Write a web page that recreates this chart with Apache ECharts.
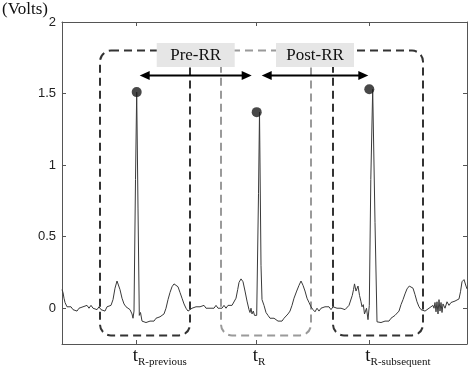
<!DOCTYPE html>
<html><head><meta charset="utf-8">
<script src="https://cdn.jsdelivr.net/npm/echarts@6/dist/echarts.min.js"></script>
<style>html,body{margin:0;padding:0;background:#fff}#c{width:474px;height:376px}</style>
</head><body><div id="c"></div>
<script>
// ECG trace: time (s) and amplitude (Volts)
const timeSec = [0.00,0.01,0.02,0.03,0.05,0.07,0.09,0.11,0.13,0.15,0.17,0.19,0.21,0.23,0.25,0.27,0.29,0.31,0.33,0.35,0.37,0.39,0.41,0.43,0.45,0.47,0.49,
0.51,0.53,0.55,0.56,0.58,0.60,0.62,0.64,0.66,0.68,0.70,0.71,0.72,0.735,0.747,0.76,0.773,0.785,0.80,0.82,0.84,0.86,0.88,0.90,0.92,0.94,0.96,0.98,1.00,1.02,
1.04,1.06,1.08,1.10,1.12,1.14,1.16,1.18,1.20,1.22,1.24,1.26,1.28,1.30,1.32,1.34,1.36,1.38,1.40,1.42,1.44,1.46,1.48,1.50,1.52,1.54,1.56,1.58,1.60,1.62,1.64,
1.66,1.68,1.70,1.72,1.74,1.757,1.77,1.79,1.81,1.83,1.85,1.87,1.88,1.89,1.90,1.913,1.925,1.947,1.965,1.975,1.99,2.00,2.02,2.04,2.06,2.08,2.10,2.12,2.14,2.16,
2.18,2.20,2.22,2.24,2.26,2.28,2.30,2.32,2.347,2.37,2.39,2.41,2.43,2.45,2.47,2.49,2.51,2.53,2.55,2.57,2.59,2.61,2.63,2.65,2.67,2.69,2.71,2.73,2.75,2.77,2.79,
2.81,2.83,2.85,2.87,2.89,2.903,2.915,2.925,2.94,2.96,2.975,2.99,3.00,3.013,3.025,3.045,3.06,3.073,3.088,3.107,3.13,3.15,3.17,3.19,3.21,3.23,3.25,3.27,3.29,
3.31,3.33,3.35,3.37,3.39,3.41,3.43,3.45,3.473,3.49,3.51,3.53,3.55,3.57,3.59,3.61,3.63,3.65,3.67,3.69,3.71,3.72,3.73,3.74,3.75,3.76,3.77,3.78,3.79,3.80,3.81,
3.83,3.85,3.87,3.89,3.91,3.93,3.95,3.97,3.985,4.00,4.02,4.04,4.05];
const volts = [0.13,0.11,0.07,0.04,0.01,0.00,0.01,-0.01,0.00,-0.02,0.00,-0.01,0.01,0.00,0.02,0.00,0.02,0.00,0.01,-0.01,0.01,-0.01,0.00,-0.02,0.01,0.00,0.02,
0.06,0.14,0.19,0.18,0.13,0.07,0.03,0.01,0.00,-0.01,-0.04,-0.07,-0.02,0.90,1.51,0.70,-0.05,-0.03,-0.09,-0.09,-0.10,-0.09,-0.09,-0.08,-0.09,-0.07,-0.07,-0.06,-0.06,-0.04,
0.00,0.06,0.11,0.15,0.17,0.18,0.15,0.11,0.07,0.03,0.00,-0.02,-0.025,0.00,-0.01,0.01,0.00,0.01,0.00,0.02,0.00,0.01,0.00,0.01,0.00,0.02,0.00,0.01,0.00,0.02,0.00,
0.02,0.01,0.02,0.03,0.07,0.13,0.18,0.205,0.185,0.12,0.05,-0.01,-0.03,0.00,-0.04,-0.02,-0.05,-0.05,0.80,1.37,0.30,0.06,0.02,-0.03,-0.05,-0.07,-0.06,-0.07,-0.07,-0.09,
-0.08,-0.09,-0.07,-0.06,-0.04,-0.02,0.02,0.07,0.12,0.16,0.19,0.16,0.12,0.07,0.04,0.01,-0.01,-0.025,0.00,-0.02,0.00,-0.01,0.01,0.00,0.01,-0.01,0.01,0.02,0.00,
0.01,0.00,0.00,-0.01,0.00,0.02,0.025,0.09,0.13,0.17,0.12,0.155,0.09,0.045,0.01,0.025,-0.04,0.00,-0.08,0.02,0.90,1.53,0.60,-0.095,-0.09,-0.10,-0.09,-0.09,-0.08,
-0.09,-0.07,-0.07,-0.05,-0.04,-0.02,0.025,0.06,0.10,0.135,0.155,0.165,0.14,0.095,0.045,0.01,-0.01,0.00,-0.02,-0.025,0.00,-0.01,0.02,0.00,0.04,-0.025,0.045,-0.04,
0.06,-0.02,0.04,-0.03,0.03,0.00,0.045,0.02,0.04,0.03,0.05,0.045,0.065,0.115,0.185,0.20,0.155,0.135,0.11,0.10];

// R peaks
const peakTimes = [0.747, 1.947, 3.073];
const peakVolts = [1.51, 1.37, 1.53];
const peakLabels = ['R-previous', 'R', 'R-subsequent'];
const yTicks = [0, 0.5, 1, 1.5, 2];
const intervalNames = ['Pre-RR', 'Post-RR'];
// window boxes [start, end] in seconds, and their vertical extent in Volts
const boxStarts = [0.38, 1.59, 2.71];
const boxEnds = [1.28, 2.49, 3.61];
const boxColors = ['#333333', '#9a9a9a', '#333333'];
const boxTop = 1.80, boxBottom = -0.19;
const arrowLevel = 1.63, labelLevel = 1.77;

const trace = timeSec.map((t, i) => [t, volts[i]]);
const peaks = peakTimes.map((t, i) => [t, peakVolts[i]]);

const chart = echarts.init(document.getElementById('c'), null, {renderer: 'canvas'});
const serif = '"Liberation Serif","Times New Roman",serif';
const sans = '"Liberation Sans",Arial,sans-serif';
const axisCol = '#555';

const option = {
  animation: false,
  backgroundColor: '#fff',
  grid: {left: 62, right: 7, top: 22, bottom: 32, show: false, outerBoundsMode: 'none'},
  xAxis: [{
    type: 'value', min: 0, max: 4.05, position: 'bottom',
    axisLine: {show: true, onZero: false, lineStyle: {color: axisCol, width: 1}},
    axisTick: {show: true, inside: true, length: 4, customValues: peakTimes, lineStyle: {color: axisCol}},
    splitLine: {show: false},
    axisLabel: {
      customValues: peakTimes, margin: 3, align: 'left',
      formatter: v => { const i = peakTimes.indexOf(v); return i < 0 ? '' : '{t|t}{s|' + peakLabels[i] + '}'; },
      rich: {
        t: {fontFamily: serif, fontSize: 19, lineHeight: 18, verticalAlign: 'top', color: '#111', padding: [0, 0, 0, -4]},
        s: {fontFamily: serif, fontSize: 11, lineHeight: 12, verticalAlign: 'top', padding: [10, 0, 0, 0], color: '#111'}
      }
    }
  }, {
    type: 'value', min: 0, max: 4.05, position: 'top',
    axisLine: {show: true, onZero: false, lineStyle: {color: axisCol, width: 1}},
    axisTick: {show: true, inside: true, length: 4, customValues: peakTimes, lineStyle: {color: axisCol}},
    axisLabel: {show: false}, splitLine: {show: false}
  }],
  yAxis: [{
    type: 'value', min: -0.25, max: 2, position: 'left',
    axisLine: {show: true, onZero: false, lineStyle: {color: axisCol, width: 1}},
    axisTick: {show: true, inside: true, length: 4, customValues: yTicks, lineStyle: {color: axisCol}},
    splitLine: {show: false},
    axisLabel: {customValues: yTicks, margin: 6, fontFamily: sans, fontSize: 13, color: '#222',
      formatter: v => String(v)}
  }, {
    type: 'value', min: -0.25, max: 2, position: 'right',
    axisLine: {show: true, onZero: false, lineStyle: {color: axisCol, width: 1}},
    axisTick: {show: true, inside: true, length: 4, customValues: yTicks, lineStyle: {color: axisCol}},
    axisLabel: {show: false}, splitLine: {show: false}
  }],
  series: [{
    type: 'line', data: trace, showSymbol: false, symbol: 'none',
    lineStyle: {color: '#3a3a3a', width: 1}, z: 3
  }, {
    type: 'scatter', data: peaks, symbolSize: 10,
    itemStyle: {color: '#1a1a1a'}, z: 5
  }],
  graphic: []
};
chart.setOption(option);

function px(t, v) { return chart.convertToPixel({gridIndex: 0}, [t, v]); }

const g = [];
g.push({type: 'text', left: 2, top: 1, style: {text: '(Volts)', font: '17px ' + serif, fill: '#111'}});
// dashed rounded windows
boxStarts.forEach((s, i) => {
  const a = px(s, boxTop), b = px(boxEnds[i], boxBottom);
  g.push({type: 'rect', z: 2,
    shape: {x: a[0], y: a[1], width: b[0] - a[0], height: b[1] - a[1], r: 11},
    style: {fill: 'none', stroke: boxColors[i], lineWidth: 2, lineDash: [8, 5]}});
});
// double arrows and labels
const arrowEnds = [[peakTimes[0] + 0.03, peakTimes[1] - 0.05], [peakTimes[1] + 0.05, peakTimes[2] - 0.01]];
arrowEnds.forEach((e, i) => {
  const p0 = px(e[0], arrowLevel), p1 = px(e[1], arrowLevel);
  const y = Math.round(p0[1]) + 0.5;
  g.push({type: 'line', z: 10, shape: {x1: p0[0] + 6, y1: y, x2: p1[0] - 6, y2: y}, style: {stroke: '#000', lineWidth: 2}});
  g.push({type: 'polygon', z: 10, shape: {points: [[p0[0], y], [p0[0] + 10, y - 4.5], [p0[0] + 10, y + 4.5]]}, style: {fill: '#000'}});
  g.push({type: 'polygon', z: 10, shape: {points: [[p1[0], y], [p1[0] - 10, y - 4.5], [p1[0] - 10, y + 4.5]]}, style: {fill: '#000'}});
  const c = px((e[0] + e[1]) / 2, labelLevel);
  g.push({type: 'rect', z: 8, shape: {x: c[0] - 39, y: c[1] - 12, width: 78, height: 24}, style: {fill: '#e6e6e6'}});
  g.push({type: 'text', z: 9, x: c[0], y: c[1] + 1, style: {text: intervalNames[i], font: '17px ' + serif, fill: '#111', align: 'center', verticalAlign: 'middle'}});
});
chart.setOption({graphic: g});
</script>
</body></html>
